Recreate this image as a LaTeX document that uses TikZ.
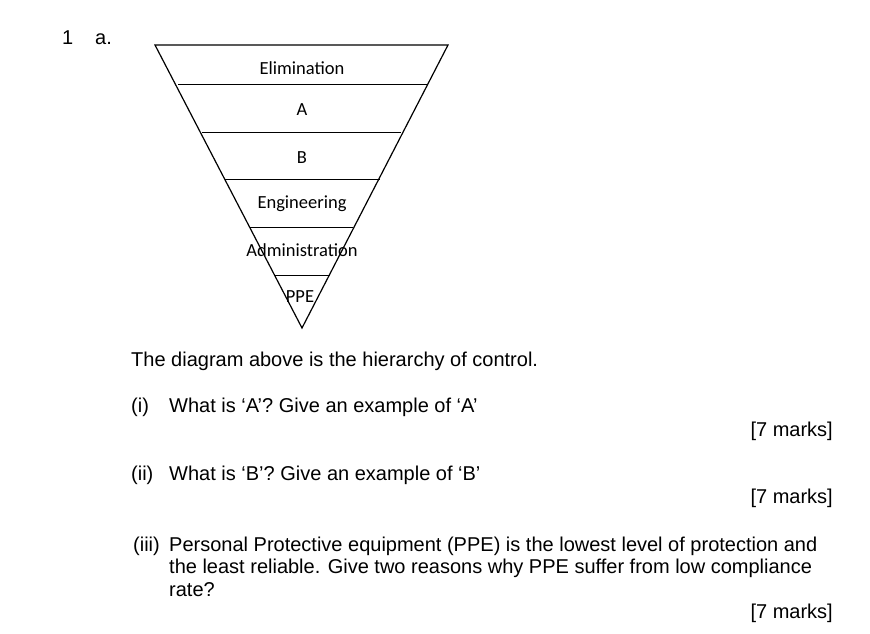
\documentclass[tikz,border=0pt]{standalone}
\usepackage{fontspec}
\setmainfont{Liberation Sans}
\newfontfamily\carlfont{Carlito}
\begin{document}
\begin{tikzpicture}[x=1pt,y=-1pt,
  lab/.style={font=\carlfont\fontsize{18.5}{22}\selectfont,inner sep=0pt},
  txt/.style={font=\fontsize{20}{24}\selectfont,inner sep=0pt,anchor=base west},
  mk/.style={font=\fontsize{20}{24}\selectfont,inner sep=0pt,anchor=base east}]
\useasboundingbox (0,0) rectangle (870,634);
\coordinate (tl) at (155,45); \coordinate (tr) at (448,45); \coordinate (ap) at (302,328);
\draw[line width=1.2pt] (tl) -- (tr) -- (ap) -- cycle;
\foreach \y/\a/\b in {84/178/428,132/202/401,179/225/380,227/250/353,275/274/330}
  \draw[line width=1pt] (\a,\y) -- (\b,\y);
\node[lab] (e) at (302,68) {Elimination};
\node[lab] (a) at (302,110) {A};
\node[lab] (b) at (302,158) {B};
\node[lab] (g) at (302,204) {Engineering};
\node[lab] (d) at (302,250) {Administration};
\node[lab] (p) at (300,297) {PPE};
\node[txt] (n1) at (62,45) {1};
\node[txt] (n2) at (95,45) {a.};
\node[txt] (t0) at (131,366) {The diagram above is the hierarchy of control.};
\node[txt] (i1) at (131,412) {(i)};
\node[txt] (i2) at (169,412) {What is ‘A’? Give an example of ‘A’};
\node[mk] (m1) at (833,436) {[7 marks]};
\node[txt] (j1) at (131,480) {(ii)};
\node[txt] (j2) at (169,480) {What is ‘B’? Give an example of ‘B’};
\node[mk] (m2) at (833,503) {[7 marks]};
\node[txt] (k1) at (133,551) {(iii)};
\node[txt] (k2) at (169,551) {Personal Protective equipment (PPE) is the lowest level of protection and};
\node[txt] (k3) at (169,573) {the least reliable. Give two reasons why PPE suffer from low compliance};
\node[txt] (k4) at (169,596) {rate?};
\node[mk] (m3) at (833,618) {[7 marks]};
\end{tikzpicture}
\end{document}
